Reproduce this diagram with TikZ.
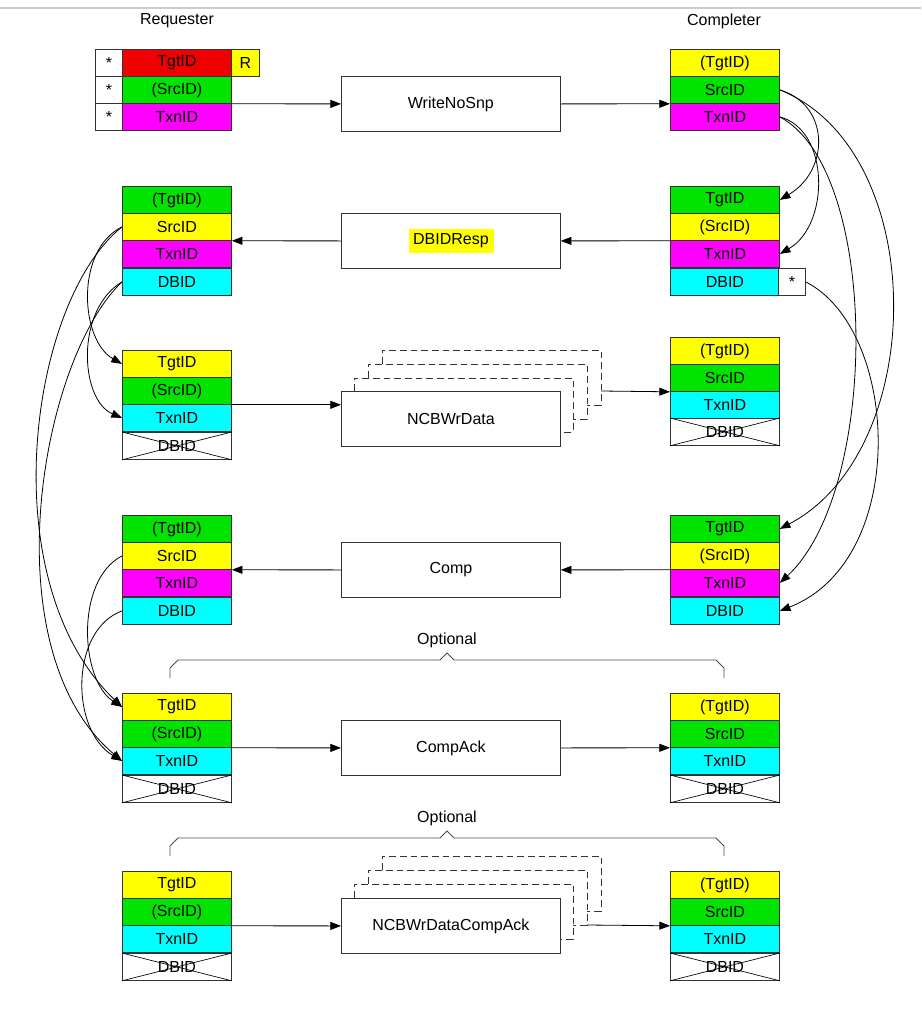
\documentclass[tikz,border=0pt]{standalone}
\usepackage{fontspec}
\setmainfont{Liberation Sans}
\usetikzlibrary{arrows.meta}
\definecolor{cy}{RGB}{255,255,0}
\definecolor{cg}{RGB}{0,228,0}
\definecolor{cr}{RGB}{240,0,0}
\definecolor{cm}{RGB}{255,0,255}
\definecolor{cc}{RGB}{0,255,255}
\tikzset{
 cell/.style={draw=black!80,line width=0.6pt,anchor=north west,minimum width=81.75pt,minimum height=20.25pt,inner sep=0pt,font=\fontsize{12}{12}\selectfont},
 star/.style={cell,minimum width=20.25pt,fill=white},
 msg/.style={draw=black!80,line width=0.6pt,anchor=north west,minimum width=164.25pt,minimum height=41.25pt,inner sep=0pt,fill=white,font=\fontsize{12}{12}\selectfont},
 arr/.style={-{Triangle[length=8pt,width=6pt]},line width=0.6pt},
 dsh/.style={dashed,dash pattern=on 5pt off 3pt,line width=0.6pt,black!80},
 lbl/.style={font=\fontsize{12}{12}\selectfont},
 brace/.style={line width=0.6pt,black!70}
}
\newcommand{\xcell}[1]{\draw[line width=0.5pt] (#1.north west)--(#1.south east) (#1.south west)--(#1.north east);}
\begin{document}
\begin{tikzpicture}[x=0.75pt,y=-0.75pt]
\useasboundingbox (0,0) rectangle (921,1035);
\draw[black!20,line width=1pt] (0,8)--(921,8);
\node[lbl] (req) at (177,21) {Requester};
\node[lbl] (cmp) at (724,21) {Completer};

% Row 1
\node[star] (s1) at (95,49) {*};
\node[star] (s2) at (95,76) {*};
\node[star] (s3) at (95,103) {*};
\node[cell,fill=cr] (l1t) at (122,49) {TgtID};
\node[cell,fill=cg] (l1s) at (122,76) {(SrcID)};
\node[cell,fill=cm] (l1x) at (122,103) {TxnID};
\node[cell,fill=cy,minimum width=21pt] (rr) at (231,49) {R};
\node[msg] (wns) at (341,76) {WriteNoSnp};
\node[cell,fill=cy] (r1t) at (670,49) {(TgtID)};
\node[cell,fill=cg] (r1s) at (670,76) {SrcID};
\node[cell,fill=cm] (r1x) at (670,103) {TxnID};
\draw[arr] (l1s.south east)--(wns.west);
\draw[arr] (wns.east)--(r1s.south west);

% Row 2
\node[cell,fill=cg] (l2t) at (122,186) {(TgtID)};
\node[cell,fill=cy] (l2s) at (122,213) {SrcID};
\node[cell,fill=cm] (l2x) at (122,240) {TxnID};
\node[cell,fill=cc] (l2d) at (122,268) {DBID};
\node[msg] (dbr) at (341,213) {\colorbox{cy}{\makebox[0pt][c]{\phantom{DBIDResp}}}\hspace{-2\fboxsep}\llap{}};
\node at (dbr.center) {\fcolorbox{cy}{cy}{\fontsize{12}{12}\selectfont DBIDResp}};
\node[cell,fill=cg] (r2t) at (670,186) {TgtID};
\node[cell,fill=cy] (r2s) at (670,213) {(SrcID)};
\node[cell,fill=cm] (r2x) at (670,240) {TxnID};
\node[cell,fill=cc] (r2d) at (670,268) {DBID};
\node[star] (s4) at (778,268) {*};
\draw[arr] (r2s.south west)--(dbr.east);
\draw[arr] (dbr.west)--(l2s.south east);

% Row 3
\node[cell,fill=cy] (l3t) at (122,350) {TgtID};
\node[cell,fill=cg] (l3s) at (122,377) {(SrcID)};
\node[cell,fill=cc] (l3x) at (122,404) {TxnID};
\node[cell,fill=white] (l3d) at (122,432) {DBID};
\xcell{l3d}
\draw[dsh] (382,364)--(382,350)--(601,350)--(601,405)--(587,405);
\draw[dsh] (368,378)--(368,364)--(587,364)--(587,419)--(573,419);
\draw[dsh] (354,391)--(354,378)--(573,378)--(573,432)--(560,432);
\node[msg] (ncb) at (341,391) {NCBWrData};
\coordinate (d3) at (601,391);
\node[cell,fill=cy] (r3t) at (670,337) {(TgtID)};
\node[cell,fill=cg] (r3s) at (670,364) {SrcID};
\node[cell,fill=cc] (r3x) at (670,391) {TxnID};
\node[cell,fill=white] (r3d) at (670,418) {DBID};
\xcell{r3d}
\draw[arr] (l3s.south east)--(l3s.south east -| ncb.west);
\draw[arr] (d3)--(r3s.south west);

% Row 4
\node[cell,fill=cg] (l4t) at (122,515) {(TgtID)};
\node[cell,fill=cy] (l4s) at (122,542) {SrcID};
\node[cell,fill=cm] (l4x) at (122,569) {TxnID};
\node[cell,fill=cc] (l4d) at (122,597) {DBID};
\node[msg] (cmpm) at (341,542) {Comp};
\node[cell,fill=cg] (r4t) at (670,515) {TgtID};
\node[cell,fill=cy] (r4s) at (670,542) {(SrcID)};
\node[cell,fill=cm] (r4x) at (670,569) {TxnID};
\node[cell,fill=cc] (r4d) at (670,597) {DBID};
\draw[arr] (r4s.south west)--(cmpm.east);
\draw[arr] (cmpm.west)--(l4s.south east);

% Optional 1
\node[lbl] (opt1) at (447,640) {Optional};
\draw[brace] (170,678)--(170,668)--(178,660)--(440,660)--(447,653)--(454,660)--(716,660)--(724,668)--(724,678);

% Row 5
\node[cell,fill=cy] (l5t) at (122,693) {TgtID};
\node[cell,fill=cg] (l5s) at (122,720) {(SrcID)};
\node[cell,fill=cc] (l5x) at (122,747) {TxnID};
\node[cell,fill=white] (l5d) at (122,775) {DBID};
\xcell{l5d}
\node[msg] (cak) at (341,720) {CompAck};
\node[cell,fill=cy] (r5t) at (670,693) {(TgtID)};
\node[cell,fill=cg] (r5s) at (670,720) {SrcID};
\node[cell,fill=cc] (r5x) at (670,747) {TxnID};
\node[cell,fill=white] (r5d) at (670,775) {DBID};
\xcell{r5d}
\draw[arr] (l5s.south east)--(cak.west);
\draw[arr] (cak.east)--(r5s.south west);

% Optional 2
\node[lbl] (opt2) at (447,818) {Optional};
\draw[brace] (170,856)--(170,846)--(178,838)--(440,838)--(447,831)--(454,838)--(716,838)--(724,846)--(724,856);

% Row 6
\node[cell,fill=cy] (l6t) at (122,871) {TgtID};
\node[cell,fill=cg] (l6s) at (122,898) {(SrcID)};
\node[cell,fill=cc] (l6x) at (122,925) {TxnID};
\node[cell,fill=white] (l6d) at (122,953) {DBID};
\xcell{l6d}
\draw[dsh] (382,870)--(382,856)--(601,856)--(601,911)--(587,911);
\draw[dsh] (368,884)--(368,870)--(587,870)--(587,925)--(573,925);
\draw[dsh] (354,898)--(354,884)--(573,884)--(573,939)--(560,939);
\node[msg] (ncbc) at (341,898) {NCBWrDataCompAck};
\coordinate (d6) at (587,925);
\node[cell,fill=cy] (r6t) at (670,871) {(TgtID)};
\node[cell,fill=cg] (r6s) at (670,898) {SrcID};
\node[cell,fill=cc] (r6x) at (670,925) {TxnID};
\node[cell,fill=white] (r6d) at (670,953) {DBID};
\xcell{r6d}
\draw[arr] (l6s.south east)--(ncbc.west);
\draw[arr] (d6)--(r6s.south west);

% Right curves
\draw[arr] (r1s.east) .. controls (830,105) and (830,170) .. (r2t.east);
\draw[arr] (r1x.east) .. controls (830,130) and (830,225) .. (r2x.east);
\draw[arr] (r1s.east) .. controls (930,150) and (930,450) .. (r4t.east);
\draw[arr] (r1x.east) .. controls (880,170) and (880,490) .. (r4x.east);
\draw[arr] (s4.east) .. controls (900,330) and (910,560) .. (r4d.east);

% Left curves
\draw[arr] (l2s.west) .. controls (75,250) and (80,340) .. (l3t.west);
\draw[arr] (l2d.west) .. controls (75,310) and (80,400) .. (l3x.west);
\draw[arr] (l2s.west) .. controls (30,300) and (-10,580) .. (l5t.west);
\draw[arr] (l2d.west) .. controls (40,360) and (-10,650) .. (l5x.west);
\draw[arr] (l4s.west) .. controls (75,580) and (80,680) .. (l5t.west);
\draw[arr] (l4d.west) .. controls (70,630) and (70,730) .. (l5x.west);
\end{tikzpicture}
\end{document}
